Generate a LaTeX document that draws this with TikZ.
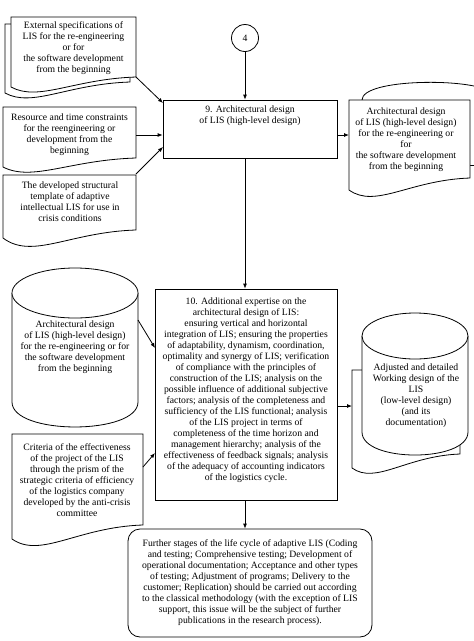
\documentclass[tikz,border=0pt]{standalone}
\usepackage{fontspec}
\setmainfont{Liberation Serif}
\usepackage{tikz}
\usetikzlibrary{arrows.meta}

\newcommand{\lisfont}{\fontsize{9.7}{11}\selectfont}

\begin{document}
\begin{tikzpicture}[x=1pt, y=-1pt,
    lis shape/.style={draw=black, fill=white, line width=0.8pt},
    lis text/.style={align=center, inner sep=0pt, font=\lisfont},
    lis box/.style={draw=black, line width=0.8pt, inner sep=0pt},
    lis arrow/.style={draw=black, line width=0.8pt, -{Latex[length=5pt, width=4pt]}}]
    \useasboundingbox (0,0) rectangle (474,641);

    % input documents on the left
    \draw[lis shape] (5,24) -- (130,24) -- (130,82) .. controls (67.5,84) and (32.5,108) .. (5,93) -- cycle;
    \draw[lis shape] (11,17) -- (136,17) -- (136,77) .. controls (73.5,79) and (38.5,102) .. (11,87) -- cycle;
    \draw[lis shape] (3,107) -- (136,107) -- (136,158) .. controls (69.5,160) and (32.3,182) .. (3,167) -- cycle;
    \draw[lis shape] (3,175) -- (136,175) -- (136,230) .. controls (69.5,232) and (32.3,260) .. (3,238) -- cycle;

    \node[lis text] (ext) at (73.5,48.5) {External specifications of\\LIS for the re-engineering\\or for\\the software development\\from the beginning};
    \node[lis text] (res) at (69.5,134.5) {Resource and time constraints\\for the reengineering or\\development from the\\beginning};
    \node[lis text] (tmpl) at (70,201.5) {The developed structural\\template of adaptive\\intellectual LIS for use in\\crisis conditions};

    % step 9
    \node[lis box, circle, minimum size=27pt, font=\lisfont] (c4) at (245,38) {4};
    \node[lis box, minimum width=174pt, minimum height=58pt] (b9) at (250,129) {};
    \node[lis text] (b9t) at (250,116) {9. Architectural design\\of LIS (high-level design)};

    % output of step 9
    \draw[draw=black, line width=0.8pt] (362,100) .. controls (362,78) and (474,78) .. (490,92);
    \draw[draw=black, line width=0.8pt] (470,165) -- (480,165);
    \draw[lis shape] (349,100) -- (470,100) -- (470,178) .. controls (409.5,180) and (375.6,209) .. (349,190) -- cycle;
    \node[lis text] (ahl) at (406,139.5) {Architectural design\\of LIS (high-level design)\\for the re-engineering or\\for\\the software development\\from the beginning};

    % inputs of step 10
    \draw[lis shape] (12,293) -- (12,402) .. controls (12,435.3) and (138,435.3) .. (138,402) -- (138,293);
    \draw[lis shape] (75,293) ellipse [x radius=63, y radius=25];
    \node[lis text] (drum) at (75,347) {Architectural design\\of LIS (high-level design)\\for the re-engineering or for\\the software development\\from the beginning};

    \draw[lis shape] (12,434) -- (143,434) -- (143,525) .. controls (77.5,527) and (40.8,559) .. (12,539) -- cycle;
    \node[lis text] (crit) at (77,480) {Criteria of the effectiveness\\of the project of the LIS\\through the prism of the\\strategic criteria of efficiency\\of the logistics company\\developed by the anti-crisis\\committee};

    % step 10
    \node[lis box, minimum width=182pt, minimum height=211pt] (b10) at (246,394.5) {};
    \node[lis text] (b10t) at (246,390) {10. Additional expertise on the\\architectural design of LIS:\\ensuring vertical and horizontal\\integration of LIS; ensuring the properties\\of adaptability, dynamism, coordination,\\optimality and synergy of LIS; verification\\of compliance with the principles of\\construction of the LIS; analysis on the\\possible influence of additional subjective\\factors; analysis of the completeness and\\sufficiency of the LIS functional; analysis\\of the LIS project in terms of\\completeness of the time horizon and\\management hierarchy; analysis of the\\effectiveness of feedback signals; analysis\\of the adequacy of accounting indicators\\of the logistics cycle.};

    % output of step 10
    \draw[lis shape] (352,370) -- (460,370) -- (460,454) .. controls (406,456) and (375.8,485) .. (352,468) -- cycle;
    \draw[lis shape] (362,336) -- (362,432) .. controls (362,462.7) and (468,462.7) .. (468,432) -- (468,336);
    \draw[lis shape] (415,336) ellipse [x radius=53, y radius=23];
    \node[lis text] (adj) at (416,395.5) {Adjusted and detailed\\Working design of the\\LIS\\(low-level design)\\(and its\\documentation)};

    % further stages
    \node[lis box, lis text, draw=black, rounded corners=12pt, minimum width=244pt, minimum height=108pt] (further) at (250,583) {Further stages of the life cycle of adaptive LIS (Coding\\and testing; Comprehensive testing; Development of\\operational documentation; Acceptance and other types\\of testing; Adjustment of programs; Delivery to the\\customer; Replication) should be carried out according\\to the classical methodology (with the exception of LIS\\support, this issue will be the subject of further\\publications in the research process).};

    % connectors
    \coordinate (ext-out) at (136,77);
    \coordinate (b9-in1) at (163,103);
    \coordinate (res-out) at (136,135);
    \coordinate (tmpl-out) at (136,174);
    \coordinate (b9-in3) at (163,147);
    \coordinate (ahl-in) at (349,135);
    \coordinate (drum-out) at (138,320);
    \coordinate (b10-in1) at (155,348);
    \coordinate (crit-out) at (143,467);
    \coordinate (b10-in2) at (155,453);
    \coordinate (adj-in) at (352,406);

    \draw[lis arrow] (ext-out) -- (b9-in1);
    \draw[lis arrow] (res-out) -- (res-out -| b9.west);
    \draw[lis arrow] (tmpl-out) -- (b9-in3);
    \draw[lis arrow] (c4.south) -- (c4.south |- b9.north);
    \draw[lis arrow] (b9.east |- ahl-in) -- (ahl-in);
    \draw[lis arrow] (c4 |- b9.south) -- (c4 |- b10.north);
    \draw[lis arrow] (drum-out) -- (b10-in1);
    \draw[lis arrow] (crit-out) -- (b10-in2);
    \draw[lis arrow] (b10.east |- adj-in) -- (adj-in);
    \draw[lis arrow] (c4 |- b10.south) -- (c4 |- further.north);
\end{tikzpicture}
\end{document}
